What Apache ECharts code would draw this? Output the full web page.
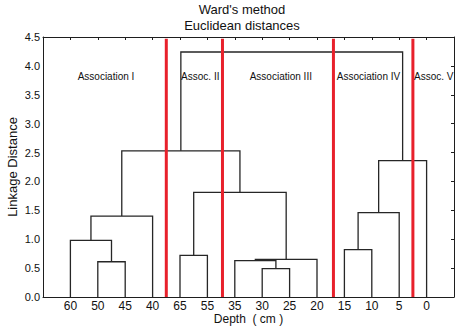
<!DOCTYPE html>
<html>
<head>
<meta charset="utf-8">
<script src="https://cdn.jsdelivr.net/npm/echarts@6/dist/echarts.min.js"></script>
<style>
  html, body { margin: 0; padding: 0; background: #fff; }
  #chart { width: 474px; height: 330px; }
</style>
</head>
<body>
<div id="chart"></div>
<script>
// Sampling depths (cm), listed in dendrogram leaf order
const depths = [60, 50, 45, 40, 65, 55, 35, 30, 25, 20, 15, 10, 5, 0];

// Agglomeration steps: [cluster A, cluster B, linkage distance].
// Ids 0-13 are the leaves; each step creates the next id (14, 15, ...).
const merges = [
  [1, 2, 0.61],   // 14
  [0, 14, 0.98],  // 15
  [15, 3, 1.40],  // 16
  [4, 5, 0.72],   // 17
  [7, 8, 0.49],   // 18
  [6, 18, 0.63],  // 19
  [19, 9, 0.65],  // 20
  [17, 20, 1.81], // 21
  [16, 21, 2.53], // 22
  [10, 11, 0.82], // 23
  [23, 12, 1.46], // 24
  [24, 13, 2.36], // 25
  [22, 25, 4.24]  // 26
];

// Boundaries between associations, in leaf-index units
const cuts = [3.5, 5.55, 9.6, 12.5];

// Association names and where they sit along the leaf axis
const associations = ['Association I', 'Assoc. II', 'Association III', 'Association IV', 'Assoc. V'];
const associationX = [1.3, 4.74, 7.68, 10.88, 13.26];

// Build the U-shaped links: [xA, xB, heightA, heightB, linkHeight]
const nodeX = depths.map((d, i) => i);
const nodeH = depths.map(() => 0);
const links = merges.map(([a, b, h]) => {
  const link = [nodeX[a], nodeX[b], nodeH[a], nodeH[b], h];
  nodeX.push((nodeX[a] + nodeX[b]) / 2);
  nodeH.push(h);
  return link;
});

const FONT = '"Liberation Sans", Arial, Helvetica, sans-serif';
const INK = '#1e1e1e';

const chart = echarts.init(document.getElementById('chart'), null, { renderer: 'svg' });

chart.setOption({
  animation: false,
  backgroundColor: '#fff',
  textStyle: { fontFamily: FONT },
  graphic: [
    { type: 'text', x: 242, y: 9,
      style: { text: "Ward's method", font: '13px ' + FONT, fill: '#111',
               align: 'center', verticalAlign: 'middle' } },
    { type: 'text', x: 242, y: 25,
      style: { text: 'Euclidean distances', font: '13px ' + FONT, fill: '#111',
               align: 'center', verticalAlign: 'middle' } }
  ],
  grid: { left: 43, right: 20, top: 37, bottom: 33, containLabel: false, outerBoundsMode: 'none' },
  xAxis: [
    {
      type: 'value', position: 'bottom', min: -1, max: 14, interval: 1,
      axisLine: { onZero: false, lineStyle: { color: INK, width: 1 } },
      axisTick: { show: false },
      splitLine: { show: false },
      axisLabel: {
        color: '#111', fontSize: 12, fontFamily: FONT, margin: 3,
        formatter: v => (v >= 0 && v < depths.length) ? String(depths[v]) : ''
      },
      name: 'Depth  ( cm )', nameLocation: 'middle', nameGap: 16, nameMoveOverlap: false,
      nameTextStyle: { color: '#111', fontSize: 12, fontFamily: FONT }
    },
    {
      type: 'value', position: 'top', min: -1, max: 14, interval: 1,
      axisLine: { show: true, onZero: false, lineStyle: { color: INK, width: 1 } },
      axisTick: { show: true, inside: true, length: 3, lineStyle: { color: INK } },
      axisLabel: { show: false },
      splitLine: { show: false }
    }
  ],
  yAxis: [
    {
      type: 'value', position: 'left', min: 0, max: 4.5, interval: 0.5,
      axisLine: { show: true, onZero: false, lineStyle: { color: INK, width: 1 } },
      axisTick: { show: false },
      splitLine: { show: false },
      axisLabel: { color: '#111', fontSize: 11, fontFamily: FONT, margin: 3,
                   formatter: v => v.toFixed(1) },
      name: 'Linkage Distance', nameLocation: 'middle', nameGap: 24, nameMoveOverlap: false,
      nameTextStyle: { color: '#111', fontSize: 13, fontFamily: FONT }
    },
    {
      type: 'value', position: 'right', min: 0, max: 4.5, interval: 0.5,
      axisLine: { show: true, onZero: false, lineStyle: { color: INK, width: 1 } },
      axisTick: { show: true, inside: true, length: 3, lineStyle: { color: INK } },
      axisLabel: { show: false },
      splitLine: { show: false }
    }
  ],
  series: [
    {
      // dendrogram links
      type: 'custom',
      xAxisIndex: 0, yAxisIndex: 0,
      data: links,
      encode: { x: [0, 1], y: [2, 3, 4] },
      renderItem: (params, api) => {
        const pts = [
          api.coord([api.value(0), api.value(2)]),
          api.coord([api.value(0), api.value(4)]),
          api.coord([api.value(1), api.value(4)]),
          api.coord([api.value(1), api.value(3)])
        ];
        return {
          type: 'polyline',
          shape: { points: pts },
          style: { stroke: '#262626', lineWidth: 1.3, fill: null }
        };
      },
      z: 3
    },
    {
      // red association boundaries
      type: 'custom',
      xAxisIndex: 0, yAxisIndex: 0,
      data: cuts.map(c => [c]),
      encode: { x: 0 },
      renderItem: (params, api) => {
        const x = api.value(0);
        const p0 = api.coord([x, 0]);
        const p1 = api.coord([x, 4.47]);
        return {
          type: 'line',
          shape: { x1: p0[0], y1: p0[1], x2: p1[0], y2: p1[1] },
          style: { stroke: '#e8212b', lineWidth: 3 }
        };
      },
      z: 4
    },
    {
      // association names
      type: 'custom',
      xAxisIndex: 0, yAxisIndex: 0,
      data: associationX.map((x, i) => [x, i]),
      encode: { x: 0 },
      renderItem: (params, api) => {
        const p = api.coord([api.value(0), 3.82]);
        return {
          type: 'text',
          style: {
            text: associations[params.dataIndex],
            x: p[0], y: p[1],
            align: 'center', verticalAlign: 'middle',
            font: '10px ' + FONT, fill: '#111'
          }
        };
      },
      z: 5
    }
  ]
});
</script>
</body>
</html>
